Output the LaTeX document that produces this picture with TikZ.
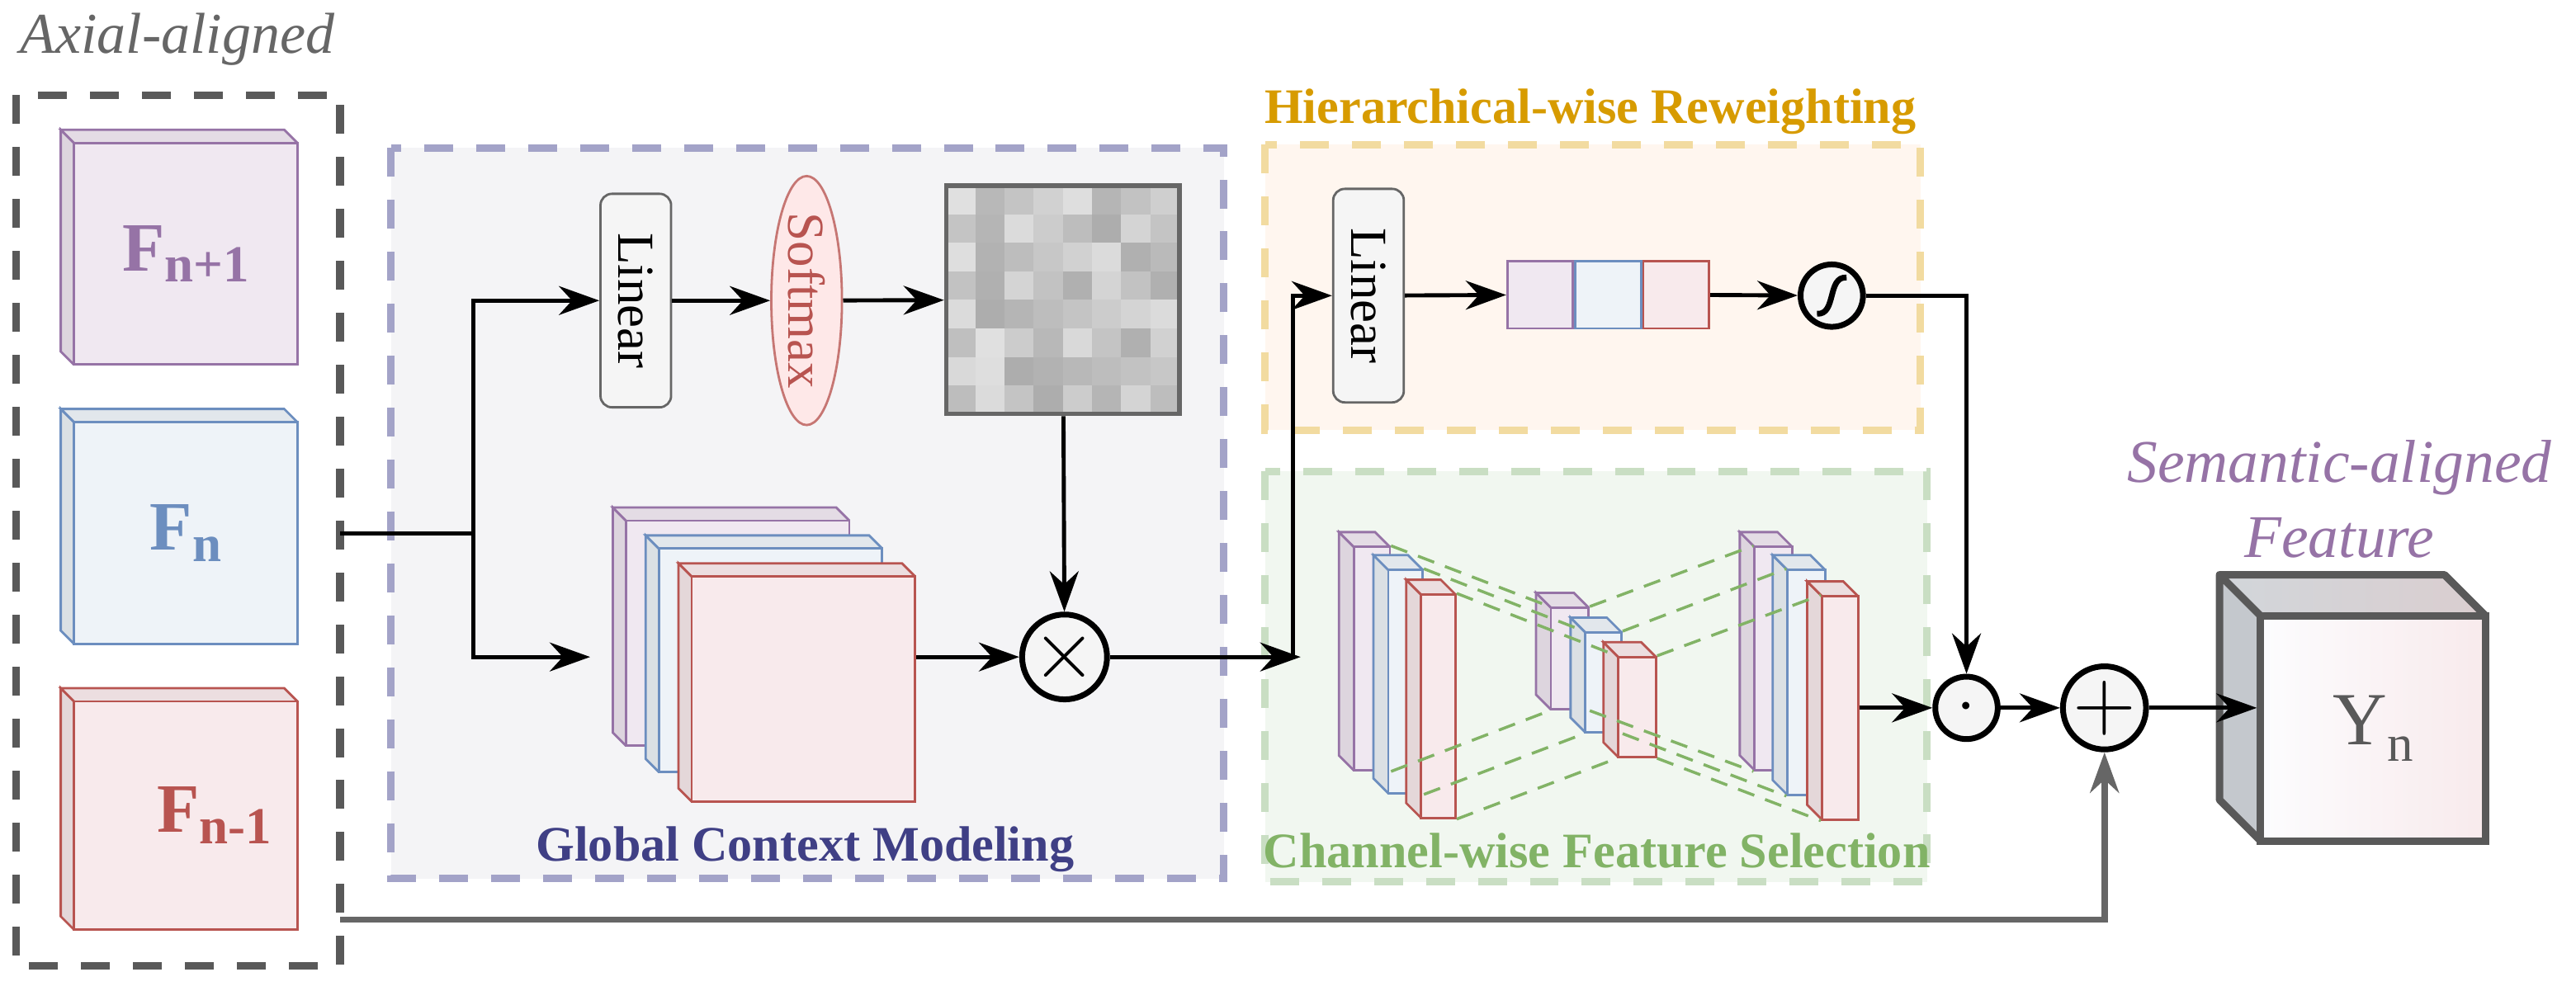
\documentclass[tikz,border=0pt]{standalone}
\usepackage{fontspec}
\setmainfont{Liberation Serif}
\usetikzlibrary{positioning,shapes.geometric,arrows.meta}
\definecolor{pfill}{HTML}{F0E8F1}
\definecolor{pedge}{HTML}{9673A6}
\definecolor{bfill}{HTML}{EEF3F8}
\definecolor{bedge}{HTML}{6C8EBF}
\definecolor{rfill}{HTML}{F8EAEC}
\definecolor{redge}{HTML}{B85450}
\definecolor{gcmfill}{HTML}{F4F4F6}
\definecolor{gcmedge}{HTML}{A3A3C8}
\definecolor{hwrfill}{HTML}{FFF6EF}
\definecolor{hwredge}{HTML}{F2DBA0}
\definecolor{cfsfill}{HTML}{F1F7F0}
\definecolor{cfsedge}{HTML}{C9DEC3}
\definecolor{gcmtext}{HTML}{3F3F85}
\definecolor{hwrtext}{HTML}{D79B00}
\definecolor{cfstext}{HTML}{82B366}
\tikzset{
  flow/.style={-{Stealth[length=7pt,width=5pt]},line width=0.7pt},
  op/.style={circle,draw,line width=1pt,fill=white!96!black,minimum size=3.8mm,inner sep=0pt},
  lin/.style={draw=black!60,rounded corners=2pt,fill=black!4,minimum width=4.3mm,minimum height=13mm,inner sep=0pt},
  panel/.style={dashed,line width=1.3pt,dash pattern=on 5pt off 4pt},
}
% cube: name, x1, y1, x2, y2, depth, fill, edge
\newcommand{\featcube}[8]{%
  \fill[#7!92!black] (#2,#3) -- ++(-#6,-#6) -- (#2-#6,#5-#6) -- (#2,#5) -- cycle;
  \draw[#8,line width=0.4pt] (#2,#3) -- ++(-#6,-#6) -- (#2-#6,#5-#6) -- (#2,#5);
  \fill[#7!95!black] (#2,#3) -- ++(-#6,-#6) -- (#4-#6,#3-#6) -- (#4,#3) -- cycle;
  \draw[#8,line width=0.4pt] (#2,#3) -- ++(-#6,-#6) -- (#4-#6,#3-#6) -- (#4,#3);
  \node[draw=#8,fill=#7,line width=0.4pt,inner sep=0pt,minimum width={(#4-#2)*0.1mm},minimum height={(#5-#3)*0.1mm}] (#1) at ({(#2+#4)/2},{(#3+#5)/2}) {};
}
\begin{document}
\begin{tikzpicture}[x=0.1mm,y=-0.1mm,font=\fontsize{9}{11}\selectfont]
  \useasboundingbox (0,0) rectangle (1568,603);
  % panels
  \draw[panel,black!65] (10,58) rectangle (207,588);
  \node[text=black!60,font=\fontsize{10}{12}\selectfont\itshape] (axial) at (108,24) {Axial-aligned};
  \draw[panel,gcmedge,fill=gcmfill] (238,90) rectangle (745,535);
  \draw[panel,hwredge,fill=hwrfill] (770,88) rectangle (1169,262);
  \draw[panel,cfsedge,fill=cfsfill] (770,287) rectangle (1173,537);
  \node[text=gcmtext,font=\fontsize{8.6}{11}\selectfont\bfseries] (gcmTitle) at (490,517) {Global Context Modeling};
  \node[text=hwrtext,font=\fontsize{8.6}{11}\selectfont\bfseries] (hwrTitle) at (968,68) {Hierarchical-wise Reweighting};
  \node[text=cfstext,font=\fontsize{8.6}{11}\selectfont\bfseries] (cfsTitle) at (972,518) {Channel-wise Feature Selection};
  % input features
  \featcube{fUp}{45}{87}{181}{222}{8}{pfill}{pedge}
  \featcube{fMid}{45}{257}{181}{392}{8}{bfill}{bedge}
  \featcube{fLow}{45}{427}{181}{566}{8}{rfill}{redge}
  \node[text=pedge,font=\fontsize{12}{12}\selectfont\bfseries] at (fUp) {F\raisebox{-0.35ex}{\small n+1}};
  \node[text=bedge,font=\fontsize{12}{12}\selectfont\bfseries] at (fMid) {F\raisebox{-0.35ex}{\small n}};
  \node[text=redge,font=\fontsize{12}{12}\selectfont\bfseries] at ([xshift=5]fLow) {F\raisebox{-0.35ex}{\small n-1}};
  \coordinate (inOut) at (207,325);
  \coordinate (split) at (288,325);
  % global context modeling
  \node[lin] (linearA) at (387,183) {\rotatebox{-90}{Linear}};
  \node[ellipse,draw=redge!80,fill=rfill!60!red!20,minimum width=4.3mm,minimum height=13mm,inner sep=0pt] (softmax) at (491,183) {\rotatebox{-90}{\textcolor{redge}{Softmax}}};
  \foreach \i in {0,...,7}
    \foreach \j in {0,...,7} {
      \pgfmathsetmacro{\shade}{int(12+mod(\i*37+\j*53+\i*\j*11,21))}
      \fill[black!\shade] (576+\i*17.75,113+\j*17.4) rectangle ++(17.75,17.4);
    }
  \node[draw=black!60,line width=0.8pt,minimum width=14.2mm,minimum height=13.9mm,inner sep=0pt] (attn) at (647,182.5) {};
  \featcube{stackA}{381}{317}{517}{454}{8}{pfill}{pedge}
  \featcube{stackB}{401}{334}{537}{470}{8}{bfill}{bedge}
  \featcube{stackC}{421}{351}{557}{488}{8}{rfill}{redge}
  \node[op] (mul) at (648,400) {\Large$\times$};
  \draw[line width=0.7pt] (inOut) -- (split);
  \draw[flow] (split) |- (linearA);
  \draw[flow] (split) |- ([xshift=-6]stackA.west |- mul);
  \draw[flow] (linearA) -- (softmax);
  \draw[flow] (softmax) -- (attn);
  \draw[flow] (attn) -- (mul);
  \draw[flow] (stackC.east |- mul) -- (mul);
  % channel-wise feature selection
  \featcube{encA}{824}{333}{846}{469}{9}{pfill}{pedge}
  \featcube{encB}{845}{347}{866}{483}{9}{bfill}{bedge}
  \featcube{encC}{865}{362}{886}{498}{9}{rfill}{redge}
  \featcube{midA}{944}{370}{967}{432}{9}{pfill}{pedge}
  \featcube{midB}{965}{385}{987}{446}{9}{bfill}{bedge}
  \featcube{midC}{985}{400}{1008}{461}{9}{rfill}{redge}
  \featcube{decA}{1068}{333}{1091}{469}{9}{pfill}{pedge}
  \featcube{decB}{1088}{347}{1111}{484}{9}{bfill}{bedge}
  \featcube{decC}{1109}{363}{1131}{499}{9}{rfill}{redge}
  \foreach \a/\b in {encA/midA,encB/midB,encC/midC}
    \draw[cfstext,densely dashed,line width=0.5pt] (\a.north east) -- (\b.north west) (\a.south east) -- (\b.south west);
  \foreach \a/\b in {midA/decA,midB/decB,midC/decC}
    \draw[cfstext,densely dashed,line width=0.5pt] (\a.north east) -- (\b.north west) (\a.south east) -- (\b.south west);
  % hierarchical-wise reweighting
  \node[lin] (linearB) at (833,180) {\rotatebox{-90}{Linear}};
  \node[draw=pedge,fill=pfill,minimum width=4mm,minimum height=4.1mm,inner sep=0pt] (wUp) at (937.5,179.5) {};
  \node[draw=bedge,fill=bfill,minimum width=4mm,minimum height=4.1mm,inner sep=0pt,right=0pt of wUp] (wMid) {};
  \node[draw=redge,fill=rfill,minimum width=4mm,minimum height=4.1mm,inner sep=0pt,right=0pt of wMid] (wLow) {};
  \node[op] (sigm) at (1115,180) {};
  \draw[line width=1pt] (1106,191) .. controls (1118,192) and (1112,168) .. (1124,169);
  \coordinate (branch) at (787,400);
  \draw[line width=0.7pt] (mul) -- (branch);
  \draw[flow] (branch) -- ([xshift=-9]encA.west |- branch);
  \draw[flow] (branch) |- (linearB);
  \draw[flow] (linearB) -- (wUp);
  \draw[flow] (wLow) -- (sigm);
  % output
  \node[op] (dotp) at (1197,431) {\large$\cdot$};
  \node[op] (addp) at (1281,431) {\Large$+$};
  \draw[flow] (sigm) -| (dotp);
  \draw[flow] (decC.east |- dotp) -- (dotp);
  \draw[flow] (dotp) -- (addp);
  \fill[bfill!75!black!70!bfill] (1376,375) -- (1351,350) -- (1351,487) -- (1376,512) -- cycle;
  \shade[left color=bfill!88!black, right color=rfill!88!black] (1376,375) -- (1351,350) -- (1488,350) -- (1513,375) -- cycle;
  \shade[left color=bfill!95!blue!10, right color=rfill] (1376,375) rectangle (1513,512);
  \node[draw=black!65,line width=1.3pt,minimum width=13.7mm,minimum height=13.7mm,inner sep=0pt] (yOut) at (1444.5,443.5) {};
  \draw[black!65,line width=1.3pt,line join=round] (1376,375) -- (1351,350) -- (1488,350) -- (1513,375) (1351,350) -- (1351,487) -- (1376,512);
  \node[text=black!65,font=\fontsize{13}{14}\selectfont] at (yOut) {Y\raisebox{-0.5ex}{\small n}};
  \node[text=pedge,font=\fontsize{10.5}{13}\selectfont\itshape,align=center] (semTitle) at (1424,304) {Semantic-aligned\\Feature};
  \draw[flow] (addp) -- (addp -| yOut.west);
  \coordinate (skipA) at (207,560);
  \draw[-{Stealth[length=7pt,width=5pt]},black!60,line width=1.1pt] (skipA) -| (addp);
\end{tikzpicture}
\end{document}
